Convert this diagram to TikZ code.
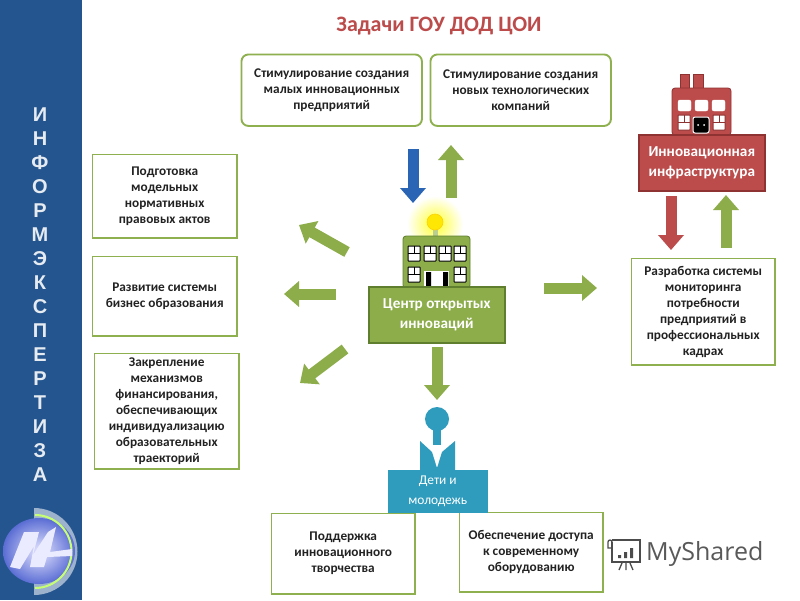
\documentclass[tikz,border=0pt]{standalone}
\usepackage{fontspec}
\setmainfont{Carlito}
\newfontfamily\osfont{Open Sans}
\newfontfamily\lsfont{Liberation Sans}
\usetikzlibrary{arrows.meta,shapes.geometric}
\definecolor{boxgreen}{HTML}{8FB04E}
\definecolor{cgreen}{HTML}{8CAD4A}
\definecolor{dgreen}{HTML}{5F7F2F}
\definecolor{cred}{HTML}{BC4B4B}
\definecolor{dred}{HTML}{8F3232}
\definecolor{cteal}{HTML}{2F9CBE}
\definecolor{cblue}{HTML}{2A65B5}
\definecolor{side}{HTML}{25558F}
\definecolor{txt}{HTML}{222222}
\tikzset{
 x=1pt,y=-1pt,
 task/.style={draw=boxgreen,line width=1.9pt,fill=white,align=center,font=\fontsize{13.3}{16}\selectfont\bfseries,text=txt,anchor=north west,inner sep=2pt},
 round task/.style={task,rounded corners=7pt},
 head/.style={line width=1.6pt,align=center,text=white,font=\fontsize{15.2}{20}\selectfont\bfseries,anchor=north west,inner sep=0pt},
 barrow/.style={line width=11pt,draw=#1,-{Triangle[width=25pt,length=15pt]}},
 letter/.style={text=white!88!side,font=\lsfont\fontsize{20}{20}\selectfont\bfseries,inner sep=0pt},
 win/.style={draw=#1,fill=white,line width=1pt,rounded corners=0.5pt},
}
\newcommand{\taskbox}[7][task]{% style,name,x1,y1,x2,y2,text
 \node[#1,minimum width=#5-#3-1.5,minimum height=#6-#4-1.5] (#2) at (#3-0.5,#4-0.5) {#7};}
\newcommand{\winpane}[3]{% x,y,color
 \draw[win=#3] (#1,#2) rectangle ++(12,15);
 \draw[#3,line width=0.8pt] (#1+6,#2) -- ++(0,7) (#1,#2+7) -- ++(12,0);}
\begin{document}
\begin{tikzpicture}
\useasboundingbox (0,0) rectangle (800,600);
\fill[white] (0,0) rectangle (800,600);
% sidebar
\fill[side] (0,0) rectangle (81.5,600);
\foreach \c [count=\i from 0] in {И,Н,Ф,О,Р,М,Э,К,С,П,Е,Р,Т,И,З,А}
  \node[letter] (L\i) at (40,115+24*\i) {\c};
% logo
\fill[side!45!white] (34,508) arc[start angle=-90,end angle=90,radius=43.5] -- cycle;
\shade[inner color=blue!10!white,outer color=blue!45!side!70!white] (39,551) ellipse (36 and 33);
\draw[green!40!yellow!55!white,line width=2pt] (35,515) arc[start angle=-90,end angle=90,radius=36.5];
\fill[white!92!blue] (10,567) -- (24,532) -- (39,532) -- (33,555) -- (48,532) -- (56,527) -- (50,552) -- (72,549) -- (72,556) -- (47,557) -- (44,567) -- (30,567) -- (34,546) -- (20,569) -- cycle;
% title
\node[text=cred,font=\fontsize{22}{26}\selectfont\bfseries,inner sep=0pt] (title) at (439,26) {Задачи ГОУ ДОД ЦОИ};
% task boxes
\taskbox[round task]{t1}{241}{54}{423}{127}{Стимулирование создания\\малых инновационных\\предприятий}
\taskbox[round task]{t2}{430}{54}{612}{127}{Стимулирование создания\\новых технологических\\компаний}
\taskbox{l1}{92}{154}{238}{239}{Подготовка\\модельных\\нормативных\\правовых актов}
\taskbox{l2}{92}{256}{238}{337}{Развитие системы\\бизнес образования}
\taskbox{l3}{94}{353}{240}{470}{Закрепление\\механизмов\\финансирования,\\обеспечивающих\\индивидуализацию\\образовательных\\траекторий}
\taskbox{r1}{631}{258}{776}{366}{Разработка системы\\мониторинга\\потребности\\предприятий в\\профессиональных\\кадрах}
\taskbox{b1}{271}{513}{416}{595}{Поддержка\\инновационного\\творчества}
\taskbox{b2}{459}{512}{604}{593}{Обеспечение доступа\\к современному\\оборудованию}
% glow and lamp
\shade[inner color=yellow!80!white,outer color=white] (435,224) circle (28);
\fill[cgreen!60!white] (433,228) rectangle (438,240);
\draw[yellow!70!orange,fill=yellow!90!orange,line width=.6pt] (435,222) circle (8);
% building
\fill[cgreen,draw=dgreen,line width=.8pt,rounded corners=3pt] (403,236) rectangle (470,288);
\foreach \x in {408,424,439,454} {\winpane{\x}{246}{black}}
\foreach \x in {408,454} {\winpane{\x}{267}{black}}
\fill[white] (424,271) rectangle (449,287);
\fill[black] (426,272) rectangle (431,286) (443,272) rectangle (448,286);
% centre
\node[head,draw=dgreen,fill=cgreen,minimum width=136pt,minimum height=56pt] (centre) at (368,286) {Центр открытых\\инноваций};
% factory
\fill[cred,draw=dred,line width=.8pt] (680,74) rectangle (689,92) (693,74) rectangle (703,92);
\fill[cred,draw=dred,line width=.8pt,rounded corners=3pt] (672,88) rectangle (731,135);
\foreach \x in {678,695,712} {\draw[white,fill=white,rounded corners=2pt] (\x,100) rectangle ++(13,11);}
\winpane{678}{115}{dred}
\winpane{713}{115}{dred}
\draw[white,fill=black,rounded corners=2pt,line width=1pt] (693,117) rectangle (709,133);
\fill[white] (698,125) circle (1) (704,125) circle (1);
\node[head,draw=dred,fill=cred,minimum width=126pt,minimum height=56pt] (infra) at (638,134) {Инновационная\\инфраструктура};
% person
\fill[cteal] (437,419) circle (12);
\fill[cteal] (433,427) rectangle (441,445);
\fill[cteal] (420,441) -- (432,452) -- (437,468) -- (442,452) -- (455,441) -- (455,470) -- (420,470) -- cycle;
\fill[white] (436,445) rectangle (438,460) (437,464) circle (1.3);
\node[head,draw=none,fill=cteal,minimum width=100pt,minimum height=43pt,font=\fontsize{13.4}{20}\selectfont] (youth) at (387,469) {Дети и\\молодежь};
% arrow ends
\coordinate (a1s) at (413,149); \coordinate (a1e) at (413,203);
\coordinate (a2s) at (451,198); \coordinate (a2e) at (451,145);
\coordinate (a3s) at (347,252); \coordinate (a3e) at (299,225);
\coordinate (a4s) at (336,294); \coordinate (a4e) at (284,294);
\coordinate (a5s) at (345,349); \coordinate (a5e) at (300,383);
\coordinate (a6s) at (544,288); \coordinate (a6e) at (597,288);
\coordinate (a7s) at (437,347); \coordinate (a7e) at (437,400);
\coordinate (a8s) at (671,196); \coordinate (a8e) at (671,250);
\coordinate (a9s) at (726,248); \coordinate (a9e) at (726,195);
\draw[barrow=cblue] (a1s) -- (a1e);
\draw[barrow=cgreen] (a2s) -- (a2e);
\draw[barrow=cgreen] (a3s) -- (a3e);
\draw[barrow=cgreen] (a4s) -- (a4e);
\draw[barrow=cgreen] (a5s) -- (a5e);
\draw[barrow=cgreen] (a6s) -- (a6e);
\draw[barrow=cgreen] (a7s) -- (a7e);
\draw[barrow=cred] (a8s) -- (a8e);
\draw[barrow=cgreen] (a9s) -- (a9e);
% watermark
\begin{scope}[draw=black!70,line width=1.3pt]
\draw (612,540) -- (640,540) -- (640,562) -- (612,562) -- (612,542);
\draw (608,548) -- (608,542) arc[start angle=180,end angle=360,radius=2] -- (612,548) -- cycle;
\fill[black!70] (618,555) rectangle (621,558) (624,552) rectangle (627,558) (630,548) rectangle (633,558);
\draw (622,563) -- (619,570) (630,563) -- (633,570) (626,563) -- (626,570);
\end{scope}
\node[text=black!65,font=\osfont\fontsize{25}{25}\selectfont,anchor=west,inner sep=0pt] (mark) at (646,554) {MyShared};
\end{tikzpicture}
\end{document}
